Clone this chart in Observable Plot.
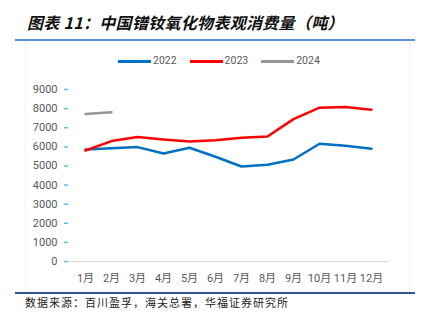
<!DOCTYPE html>
<html>
<head>
<meta charset="utf-8">
<script src="https://cdn.jsdelivr.net/npm/d3@7"></script>
<script src="https://cdn.jsdelivr.net/npm/@observablehq/plot@0.6"></script>
<style>
  html, body { margin: 0; padding: 0; background: #fff; }
  #wrap { position: relative; width: 422px; height: 324px; overflow: hidden; font-family: Roboto, "Noto Sans CJK SC", sans-serif; }
  #title { position: absolute; left: 27px; top: 10px; font-family: "Noto Sans CJK SC", sans-serif; font-size: 16px; font-weight: bold; font-style: italic; color: #111; white-space: nowrap; letter-spacing: 0.3px; }
  #rule1 { position: absolute; left: 15px; top: 39px; width: 400px; height: 1.5px; background: #5b8fd0; }
  #box { position: absolute; left: 25px; top: 41px; width: 383px; height: 251px; border-left: 1px solid #f0f0f0; border-right: 1px solid #f0f0f0; }
  #legend { position: absolute; left: 118px; top: 53px; display: flex; font-size: 10.5px; color: #595959; line-height: 16px; }
  .item { display: flex; align-items: center; margin-right: 13px; }
  .sw { width: 33px; height: 3px; margin-right: 2px; }
  #plot { position: absolute; left: 0; top: 75px; }
  #rule2 { position: absolute; left: 15px; top: 292px; width: 400px; height: 1.5px; background: #2f5597; }
  #caption { position: absolute; left: 25px; top: 294px; font-family: "Noto Sans CJK SC", serif; font-size: 11px; letter-spacing: 1px; color: #222; white-space: nowrap; }
</style>
</head>
<body>
<div id="wrap">
  <div id="title">图表 11：中国镨钕氧化物表观消费量（吨）</div>
  <div id="rule1"></div>
  <div id="box"></div>
  <div id="legend"></div>
  <div id="plot"></div>
  <div id="rule2"></div>
  <div id="caption">数据来源：百川盈孚，海关总署，华福证券研究所</div>
</div>
<script>
const months = ["1月","2月","3月","4月","5月","6月","7月","8月","9月","10月","11月","12月"];
const seriesNames = ["2022","2023","2024"];
const seriesColors = ["#0070c0","#ff0000","#969696"];
const v2022 = [5860,5920,5985,5655,5950,5480,4970,5060,5340,6160,6055,5900];
const v2023 = [5810,6300,6510,6390,6285,6340,6475,6540,7450,8050,8085,7945];
const v2024 = [7720,7810];
const yTicks = [0,1000,2000,3000,4000,5000,6000,7000,8000,9000];

const allValues = [v2022, v2023, v2024];
const data = [];
allValues.forEach((vals, s) => vals.forEach((v, i) => data.push({month: months[i], value: v, series: seriesNames[s]})));

// legend
const legend = document.getElementById("legend");
seriesNames.forEach((n, i) => {
  const it = document.createElement("div");
  it.className = "item";
  it.innerHTML = `<div class="sw" style="background:${seriesColors[i]}"></div><span>${n}</span>`;
  legend.appendChild(it);
});

const chart = Plot.plot({
  width: 422,
  height: 210,
  marginLeft: 68,
  marginRight: 33.3,
  marginTop: 14,
  marginBottom: 24,
  style: {fontFamily: "Roboto, 'Noto Sans CJK SC', sans-serif", fontSize: "11px", background: "transparent"},
  x: {type: "point", domain: months, padding: 0.5},
  y: {domain: [0, 9000]},
  color: {domain: seriesNames, range: seriesColors},
  marks: [
    Plot.ruleY([0], {stroke: "#d9d9d9", strokeWidth: 1}),
    Plot.axisY({ticks: yTicks, tickSize: 4, tickPadding: 7, line: true, stroke: "#56c1ef", strokeWidth: 1.5, fill: "#595959", tickFormat: d3.format("d"), label: null}),
    Plot.axisX({tickSize: 0, tickPadding: 13, fill: "#595959", label: null}),
    Plot.line(data, {x: "month", y: "value", z: "series", stroke: "series", strokeWidth: 2.5})
  ]
});
document.getElementById("plot").appendChild(chart);
</script>
</body>
</html>
